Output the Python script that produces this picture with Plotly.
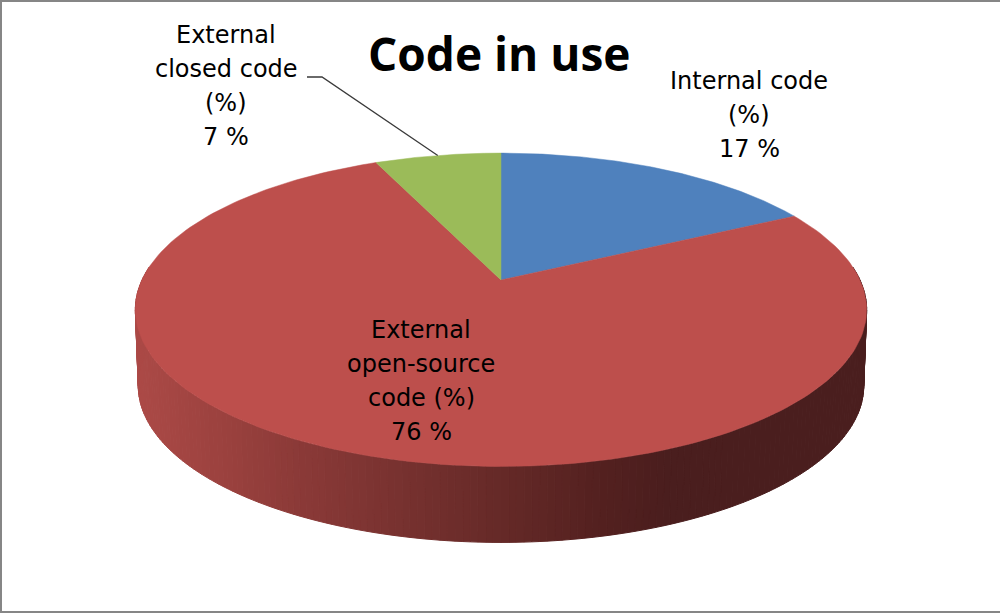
import numpy as np
import plotly.graph_objects as go

# slices, clockwise from 12 o'clock (labels in the chart round these)
categories = ["Internal code (%)", "External open-source code (%)", "External closed code (%)"]
values = [17.4, 75.9, 6.7]
colors = ["#4f81bd", "#bd4f4c", "#9bbb59"]

title_text = "Code in use"
FONT = "DejaVu Sans"

# data labels, one entry per text line
label_lines = [
    (["Internal code", "(%)", "17 %"], 749, 81),
    (["External", "open-source", "code (%)", "76 %"], 421, 330),
    (["External", "closed code", "(%)", "7 %"], 226, 35),
]

# side wall shading: pixel x -> rgb
shade_x = [136, 220, 300, 400, 500, 600, 670, 870]
shade_r = [172, 156, 139, 120, 102, 84, 74, 74]
shade_g = [74, 66, 58, 50, 42, 33, 30, 30]
shade_b = [71, 63, 56, 48, 40, 32, 30, 30]

# projection of the tilted disc
CX, CY = 501, 280
RX, RY = 359, 151
PERSP = 0.19
DEPTH = 76
BOTTOM_SHRINK = 0.992


def rim(theta):
    """theta in radians clockwise from the top -> screen x, y"""
    u, v = np.sin(theta), -np.cos(theta)
    w = 1 / (1 - PERSP * v)
    return CX + RX * u * w, CY + RY * v * w


fig = go.Figure()

# side wall: thin bands along the front of the rim
band_edges = np.radians(np.linspace(85, 275, 191))
for t0, t1 in zip(band_edges[:-1], band_edges[1:]):
    x0, y0 = rim(t0)
    x1, y1 = rim(t1)
    xb0 = CX + (x0 - CX) * BOTTOM_SHRINK
    xb1 = CX + (x1 - CX) * BOTTOM_SHRINK
    mid = (x0 + x1) / 2
    col = "rgb(%d,%d,%d)" % (
        np.interp(mid, shade_x, shade_r),
        np.interp(mid, shade_x, shade_g),
        np.interp(mid, shade_x, shade_b),
    )
    fig.add_trace(go.Scatter(
        x=[x0, x1, xb1, xb0, x0],
        y=[y0, y1, y1 + DEPTH, y0 + DEPTH, y0],
        mode="lines", fill="toself", fillcolor=col,
        line=dict(color=col, width=1), hoverinfo="skip",
    ))

# top face
fractions = np.cumsum([0] + values) / sum(values)
for name, start, end, col in zip(categories, fractions[:-1], fractions[1:], colors):
    th = 2 * np.pi * np.linspace(start, end, 200)
    xs, ys = rim(th)
    fig.add_trace(go.Scatter(
        x=np.r_[CX, xs, CX], y=np.r_[CY, ys, CY],
        mode="lines", fill="toself", fillcolor=col,
        line=dict(color=col, width=0.5), name=name, hoverinfo="name",
    ))

# leader line to the middle of the last slice
lx, ly = rim(2 * np.pi * (fractions[-2] + fractions[-1]) / 2)
fig.add_trace(go.Scatter(
    x=[307, 322, lx], y=[77, 77, ly], mode="lines",
    line=dict(color="#3a3a3a", width=1.3), hoverinfo="skip",
))

# frame of the picture (no right edge in the original)
fig.add_trace(go.Scatter(
    x=[1000, 1, 1, 1000], y=[1, 1, 612, 612], mode="lines",
    line=dict(color="#868686", width=2), hoverinfo="skip",
))

annotations = [dict(
    x=499, y=53, text="<b>%s</b>" % title_text, showarrow=False,
    font=dict(family="Open Sans", size=46, color="black"),
)]
LINE_STEP = 34
for lines, ax, ay in label_lines:
    for i, line in enumerate(lines):
        annotations.append(dict(
            x=ax, y=ay + i * LINE_STEP, text=line, showarrow=False,
            font=dict(family=FONT, size=24, color="black"),
        ))

fig.update_layout(
    width=1000, height=614,
    margin=dict(l=0, r=0, t=0, b=0),
    paper_bgcolor="white", plot_bgcolor="white",
    showlegend=False,
    xaxis=dict(range=[0, 1000], visible=False),
    yaxis=dict(range=[614, 0], visible=False),
    annotations=annotations,
)

fig.write_html("out.html", config=dict(displayModeBar=False),
               post_script="document.body.style.margin='0';")
